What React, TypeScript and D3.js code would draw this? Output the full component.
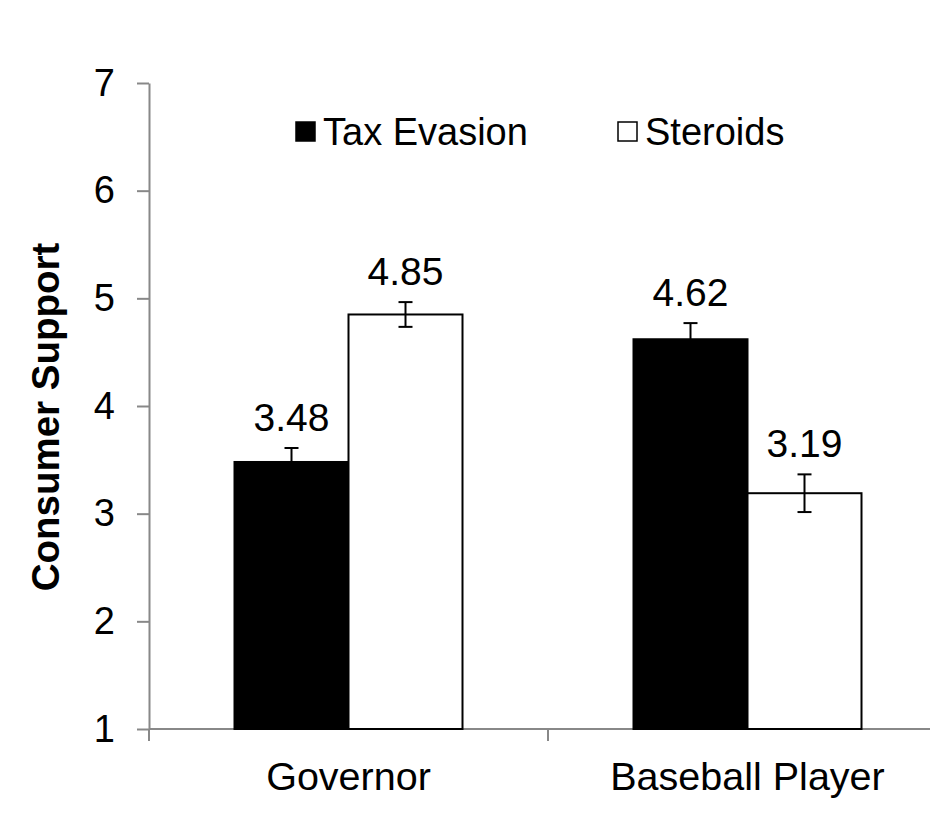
import React, { useRef, useEffect } from 'react';
import * as d3 from 'd3';

// Chart data
const categories = ['Governor', 'Baseball Player'];
const seriesNames = ['Tax Evasion', 'Steroids'];
const taxEvasion = [3.48, 4.62];
const steroids = [4.85, 3.19];
const taxEvasionErr = [0.13, 0.15];
const steroidsErr = [0.115, 0.175];
const yTicks = [1, 2, 3, 4, 5, 6, 7];

const W = 930;
const H = 813;
const FONT = 'Liberation Sans, Arial, sans-serif';

export default function App() {
    const svgRef = useRef<SVGSVGElement>(null);

    useEffect(() => {
        if (!svgRef.current) return;
        const svg = d3.select(svgRef.current);
        svg.selectAll('*').remove();

        const x = d3.scaleBand<string>()
            .domain(categories)
            .range([149, 947])
            .paddingInner(0)
            .paddingOuter(0);

        const y = d3.scaleLinear().domain([1, 7]).range([729, 83]);

        const barW = 114;
        const axisColor = '#888888';

        // Y axis
        const yAxis = d3.axisLeft(y)
            .tickValues(yTicks)
            .tickSize(12)
            .tickSizeOuter(0)
            .tickPadding(22)
            .tickFormat(d3.format('d') as any);

        const yG = svg.append('g')
            .attr('transform', 'translate(149,0)')
            .call(yAxis);
        yG.selectAll('path, line')
            .attr('stroke', axisColor)
            .attr('stroke-width', 2);
        yG.selectAll('text')
            .attr('fill', '#000')
            .attr('font-family', FONT)
            .attr('font-size', '38px');

        // X axis (ticks at band edges)
        const xG = svg.append('g').attr('class', 'x-axis');
        xG.append('line')
            .attr('x1', 149).attr('x2', 947)
            .attr('y1', y(1)).attr('y2', y(1))
            .attr('stroke', axisColor).attr('stroke-width', 2);
        const edges = categories.map(c => x(c) as number).concat([x.range()[1]]);
        edges.forEach(ex => {
            xG.append('line')
                .attr('x1', ex).attr('x2', ex)
                .attr('y1', y(1)).attr('y2', y(1) + 12)
                .attr('stroke', axisColor).attr('stroke-width', 2);
        });
        categories.forEach(c => {
            xG.append('text')
                .attr('x', (x(c) as number) + x.bandwidth() / 2)
                .attr('y', 790)
                .attr('text-anchor', 'middle')
                .attr('font-family', FONT)
                .attr('font-size', '39.5px')
                .attr('fill', '#000')
                .text(c);
        });

        // Bars
        const series = [
            { values: taxEvasion, errs: taxEvasionErr, fill: '#000000', offset: -barW },
            { values: steroids, errs: steroidsErr, fill: '#ffffff', offset: 0 },
        ];

        const barsG = svg.append('g').attr('class', 'bars');
        series.forEach(s => {
            categories.forEach((c, i) => {
                const cx = (x(c) as number) + x.bandwidth() / 2;
                const v = s.values[i];
                barsG.append('rect')
                    .attr('x', cx + s.offset)
                    .attr('y', y(v))
                    .attr('width', barW)
                    .attr('height', y(1) - y(v))
                    .attr('fill', s.fill)
                    .attr('stroke', '#000')
                    .attr('stroke-width', 2);
            });
        });

        // Error bars and value labels
        series.forEach(s => {
            categories.forEach((c, i) => {
                const cx = (x(c) as number) + x.bandwidth() / 2 + s.offset + barW / 2;
                const v = s.values[i];
                const e = s.errs[i];
                const top = y(v + e);
                const bot = y(v - e);
                const g = barsG.append('g');
                g.append('line')
                    .attr('x1', cx).attr('x2', cx)
                    .attr('y1', top).attr('y2', bot)
                    .attr('stroke', '#000').attr('stroke-width', 2);
                [top, bot].forEach(yy => {
                    g.append('line')
                        .attr('x1', cx - 7).attr('x2', cx + 7)
                        .attr('y1', yy).attr('y2', yy)
                        .attr('stroke', '#000').attr('stroke-width', 2);
                });
                g.append('text')
                    .attr('x', cx)
                    .attr('y', top - 17)
                    .attr('text-anchor', 'middle')
                    .attr('font-family', FONT)
                    .attr('font-size', '39px')
                    .attr('fill', '#000')
                    .text(v.toFixed(2));
            });
        });

        // Y axis title
        svg.append('text')
            .attr('transform', 'translate(59,417) rotate(-90)')
            .attr('text-anchor', 'middle')
            .attr('font-family', FONT)
            .attr('font-weight', 'bold')
            .attr('font-size', '38.5px')
            .attr('fill', '#000')
            .text('Consumer Support');

        // Legend
        const legendItems = [
            { name: seriesNames[0], fill: '#000', x: 296 },
            { name: seriesNames[1], fill: '#fff', x: 618 },
        ];
        const legend = svg.append('g').attr('class', 'legend');
        legendItems.forEach(item => {
            legend.append('rect')
                .attr('x', item.x)
                .attr('y', 122)
                .attr('width', 19)
                .attr('height', 19)
                .attr('fill', item.fill)
                .attr('stroke', '#000')
                .attr('stroke-width', 1.5);
            legend.append('text')
                .attr('x', item.x + 27)
                .attr('y', 145)
                .attr('font-family', FONT)
                .attr('font-size', '38px')
                .attr('fill', '#000')
                .text(item.name);
        });
    }, []);

    return (
        <svg
            ref={svgRef}
            width={W}
            height={H}
            style={{ position: 'absolute', left: 0, top: 0, background: '#fff' }}
        />
    );
}
